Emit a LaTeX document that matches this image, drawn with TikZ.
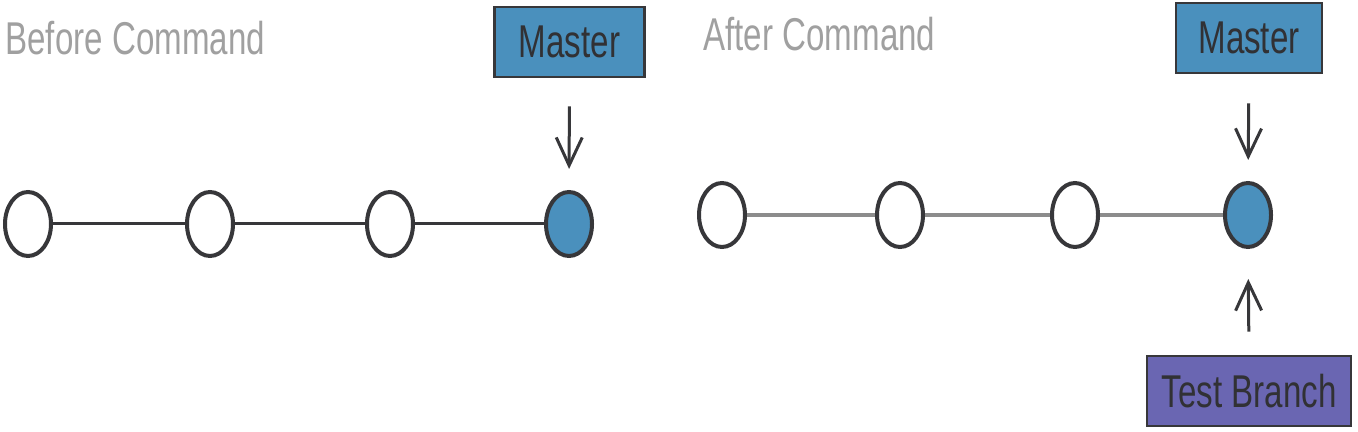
\documentclass[tikz,border=0pt]{standalone}
\usepackage{fontspec}
\setmainfont{Liberation Sans}[FakeStretch=0.72]
\usepackage{tikz}
\usetikzlibrary{arrows.meta,positioning,shapes.geometric}
\definecolor{mastercolor}{RGB}{74,144,189}
\definecolor{testcolor}{RGB}{106,102,178}
\definecolor{edgecolor}{RGB}{55,55,58}
\definecolor{titlecolor}{RGB}{160,160,160}
\definecolor{linkcolor}{RGB}{140,140,140}

\begin{document}
\begin{tikzpicture}[x=0.5pt, y=-0.5pt,
    every node/.style={font=\fontsize{23}{27}\selectfont},
    commit/.style={ellipse,draw=edgecolor,line width=2pt,fill=white,
                   minimum width=23pt,minimum height=32pt,inner sep=0pt},
    head/.style={commit,fill=mastercolor},
    branch/.style={draw=edgecolor,line width=1.3pt,text=edgecolor!90!black,
                   minimum height=35pt,inner sep=0pt},
    title/.style={text=titlecolor,anchor=base west,inner sep=0pt},
    ptr/.style={-{Straight Barb[length=14pt,width=13pt]},line width=1.5pt,
                draw=edgecolor}]

  \useasboundingbox (0,0) rectangle (1358,432);

  % Before command
  \node[title] (before) at (5,55) {Before Command};
  \node[commit] (b1) at (28,224)  {};
  \node[commit] (b2) at (210,224) {};
  \node[commit] (b3) at (390,224) {};
  \node[head]   (b4) at (569,224) {};
  \draw[line width=1.5pt,edgecolor] (b1) -- (b2) (b2) -- (b3) (b3) -- (b4);
  \node[branch,fill=mastercolor,minimum width=75pt] (masterL) at (569.5,42) {Master};
  \draw[ptr,shorten <=14pt,shorten >=10.5pt] (masterL.south) -- (b4.north);

  % After command
  \node[title] (after) at (703,51) {After Command};
  \node[commit] (a1) at (722,215)  {};
  \node[commit] (a2) at (900,215)  {};
  \node[commit] (a3) at (1075,215) {};
  \node[head]   (a4) at (1248,215) {};
  \draw[line width=2pt,linkcolor] (a1) -- (a2) (a2) -- (a3) (a3) -- (a4);
  \node[branch,fill=mastercolor,minimum width=73pt] (masterR) at (1249,38) {Master};
  \draw[ptr,shorten <=14.5pt,shorten >=10.5pt] (masterR.south) -- (a4.north);
  \node[branch,fill=testcolor,minimum width=102pt] (test) at (1249,391) {Test Branch};
  \draw[ptr,shorten <=11.5pt,shorten >=15pt] (test.north) -- (a4.south);

\end{tikzpicture}
\end{document}
